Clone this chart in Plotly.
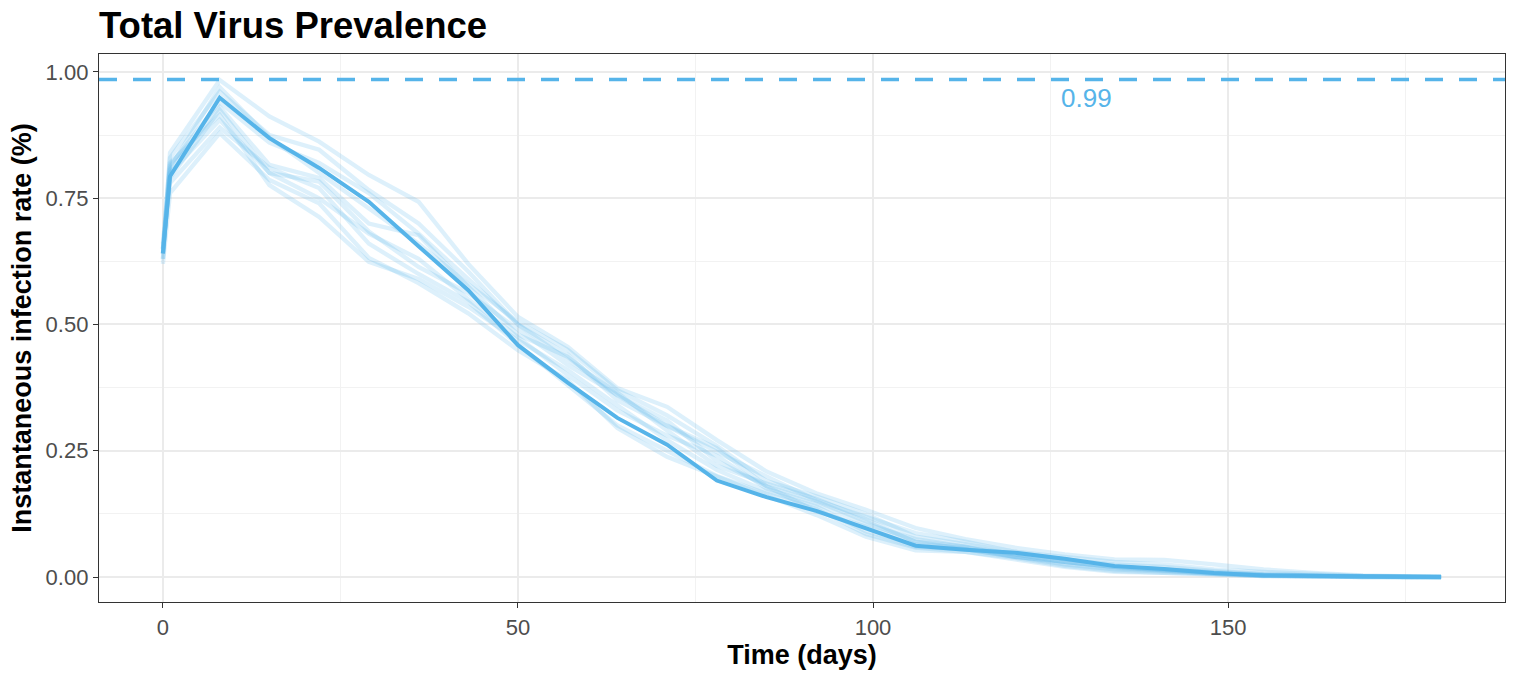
import plotly.graph_objects as go

# ---------------- data ----------------
days = [0, 1, 8, 15, 22, 29, 36, 43, 50, 57, 64, 71, 78, 85, 92, 99, 106, 113,
        120, 127, 134, 141, 148, 155, 162, 169, 176, 180]

mean_prevalence = [0.641, 0.793, 0.949, 0.869, 0.810, 0.743, 0.655, 0.568, 0.459,
                   0.385, 0.315, 0.262, 0.191, 0.158, 0.131, 0.097, 0.062, 0.054,
                   0.048, 0.036, 0.022, 0.016, 0.008, 0.003, 0.002, 0.001, 0.0005, 0.0]

rep_a = [0.63, 0.84, 0.984, 0.912, 0.862, 0.796, 0.743, 0.620, 0.515, 0.456, 0.374, 0.337, 0.271, 0.209,
         0.166, 0.133, 0.097, 0.075, 0.058, 0.045, 0.035, 0.034, 0.025, 0.015, 0.008, 0.003, 0.001, 0.0]
rep_b = [0.65, 0.83, 0.961, 0.875, 0.846, 0.766, 0.700, 0.605, 0.500, 0.440, 0.350, 0.298, 0.248, 0.199,
         0.152, 0.119, 0.087, 0.070, 0.050, 0.040, 0.030, 0.025, 0.015, 0.010, 0.005, 0.002, 0.001, 0.0]
rep_c = [0.64, 0.806, 0.931, 0.816, 0.790, 0.700, 0.677, 0.575, 0.480, 0.436, 0.360, 0.300, 0.255, 0.180,
         0.150, 0.110, 0.070, 0.060, 0.040, 0.030, 0.020, 0.015, 0.010, 0.005, 0.003, 0.001, 0.0, 0.0]
rep_d = [0.62, 0.76, 0.879, 0.786, 0.740, 0.632, 0.582, 0.522, 0.449, 0.390, 0.295, 0.238, 0.199, 0.162,
         0.123, 0.080, 0.053, 0.050, 0.035, 0.020, 0.010, 0.008, 0.004, 0.002, 0.001, 0.0, 0.0, 0.0]
rep_e = [0.66, 0.82, 0.915, 0.776, 0.713, 0.624, 0.590, 0.535, 0.469, 0.410, 0.340, 0.271, 0.212, 0.170,
         0.140, 0.090, 0.060, 0.055, 0.040, 0.025, 0.015, 0.010, 0.005, 0.002, 0.001, 0.0, 0.0, 0.0]
rep_f = [0.64, 0.80, 0.905, 0.800, 0.783, 0.684, 0.614, 0.562, 0.490, 0.420, 0.360, 0.310, 0.230, 0.180,
         0.130, 0.100, 0.065, 0.058, 0.045, 0.030, 0.020, 0.012, 0.006, 0.003, 0.001, 0.0, 0.0, 0.0]
rep_g = [0.63, 0.81, 0.970, 0.870, 0.800, 0.730, 0.660, 0.580, 0.505, 0.450, 0.370, 0.320, 0.260, 0.190,
         0.160, 0.125, 0.080, 0.065, 0.050, 0.035, 0.025, 0.020, 0.012, 0.006, 0.003, 0.001, 0.0, 0.0]
rep_h = [0.65, 0.79, 0.925, 0.800, 0.750, 0.680, 0.630, 0.550, 0.475, 0.400, 0.330, 0.280, 0.240, 0.175,
         0.145, 0.105, 0.075, 0.060, 0.045, 0.030, 0.018, 0.012, 0.007, 0.003, 0.001, 0.0, 0.0, 0.0]
rep_i = [0.64, 0.815, 0.940, 0.860, 0.820, 0.760, 0.680, 0.590, 0.500, 0.430, 0.365, 0.290, 0.220, 0.185,
         0.155, 0.115, 0.070, 0.055, 0.040, 0.030, 0.020, 0.015, 0.008, 0.004, 0.002, 0.001, 0.0, 0.0]
rep_j = [0.65, 0.78, 0.890, 0.810, 0.770, 0.660, 0.600, 0.545, 0.460, 0.380, 0.300, 0.250, 0.200, 0.165,
         0.135, 0.085, 0.058, 0.050, 0.038, 0.022, 0.012, 0.008, 0.004, 0.002, 0.001, 0.0, 0.0, 0.0]
replicates = [rep_a, rep_b, rep_c, rep_d, rep_e, rep_f, rep_g, rep_h, rep_i, rep_j]

max_prevalence = 0.985
max_label = "0.99"
label_day = 130
label_y = 0.948

x_ticks = [0, 50, 100, 150]
y_ticks = [0.0, 0.25, 0.50, 0.75, 1.00]

title_text = "Total Virus Prevalence"
x_title = "Time (days)"
y_title = "Instantaneous infection rate (%)"

# ---------------- figure ----------------
BLUE = "#56B4E9"
FONT = "Liberation Sans"

fig = go.Figure()
for rep in replicates:
    fig.add_trace(go.Scatter(x=days, y=rep, mode="lines",
                             line=dict(color="rgba(86,180,233,0.2)", width=4.3),
                             hoverinfo="skip", showlegend=False))
fig.add_trace(go.Scatter(x=days, y=mean_prevalence, mode="lines",
                         line=dict(color=BLUE, width=4), showlegend=False))

fig.add_shape(type="line", xref="paper", x0=0, x1=1, yref="y",
              y0=max_prevalence, y1=max_prevalence,
              line=dict(color=BLUE, width=3.4, dash="18px,16px"), layer="above")
fig.add_annotation(x=label_day, y=label_y, text=max_label, showarrow=False,
                   font=dict(family=FONT, size=26, color=BLUE))

axis_common = dict(
    showline=True, linecolor="#333333", linewidth=1.3, mirror=True,
    ticks="outside", ticklen=5, tickwidth=1.2, tickcolor="#333333",
    showgrid=True, gridcolor="#EBEBEB", gridwidth=1.6, zeroline=False,
    automargin=False,
    tickfont=dict(family=FONT, size=22, color="#4D4D4D"),
)

fig.update_layout(
    width=1522, height=673,
    margin=dict(l=99, r=17, t=54, b=71),
    paper_bgcolor="white", plot_bgcolor="white",
    title=dict(text="<b>" + title_text + "</b>", x=99 / 1522, xanchor="left",
               y=1 - 25 / 673, yanchor="middle",
               font=dict(family=FONT, size=36.5, color="black")),
    xaxis=dict(range=[-9.0, 189.0], tickvals=x_ticks,
               minor=dict(showgrid=True, gridcolor="#F2F2F2", gridwidth=0.8,
                          tickvals=[25, 75, 125, 175], ticks=""),
               title=dict(text="<b>" + x_title + "</b>", standoff=4,
                          font=dict(family=FONT, size=27, color="black")),
               **axis_common),
    yaxis=dict(range=[-0.0495, 1.0356], tickvals=y_ticks, tickformat=".2f",
               minor=dict(showgrid=True, gridcolor="#F2F2F2", gridwidth=0.8,
                          tickvals=[0.125, 0.375, 0.625, 0.875], ticks=""),
               title=dict(text="<b>" + y_title + "</b>", standoff=6,
                          font=dict(family=FONT, size=27, color="black")),
               **axis_common),
)

fig.write_html("out.html")
